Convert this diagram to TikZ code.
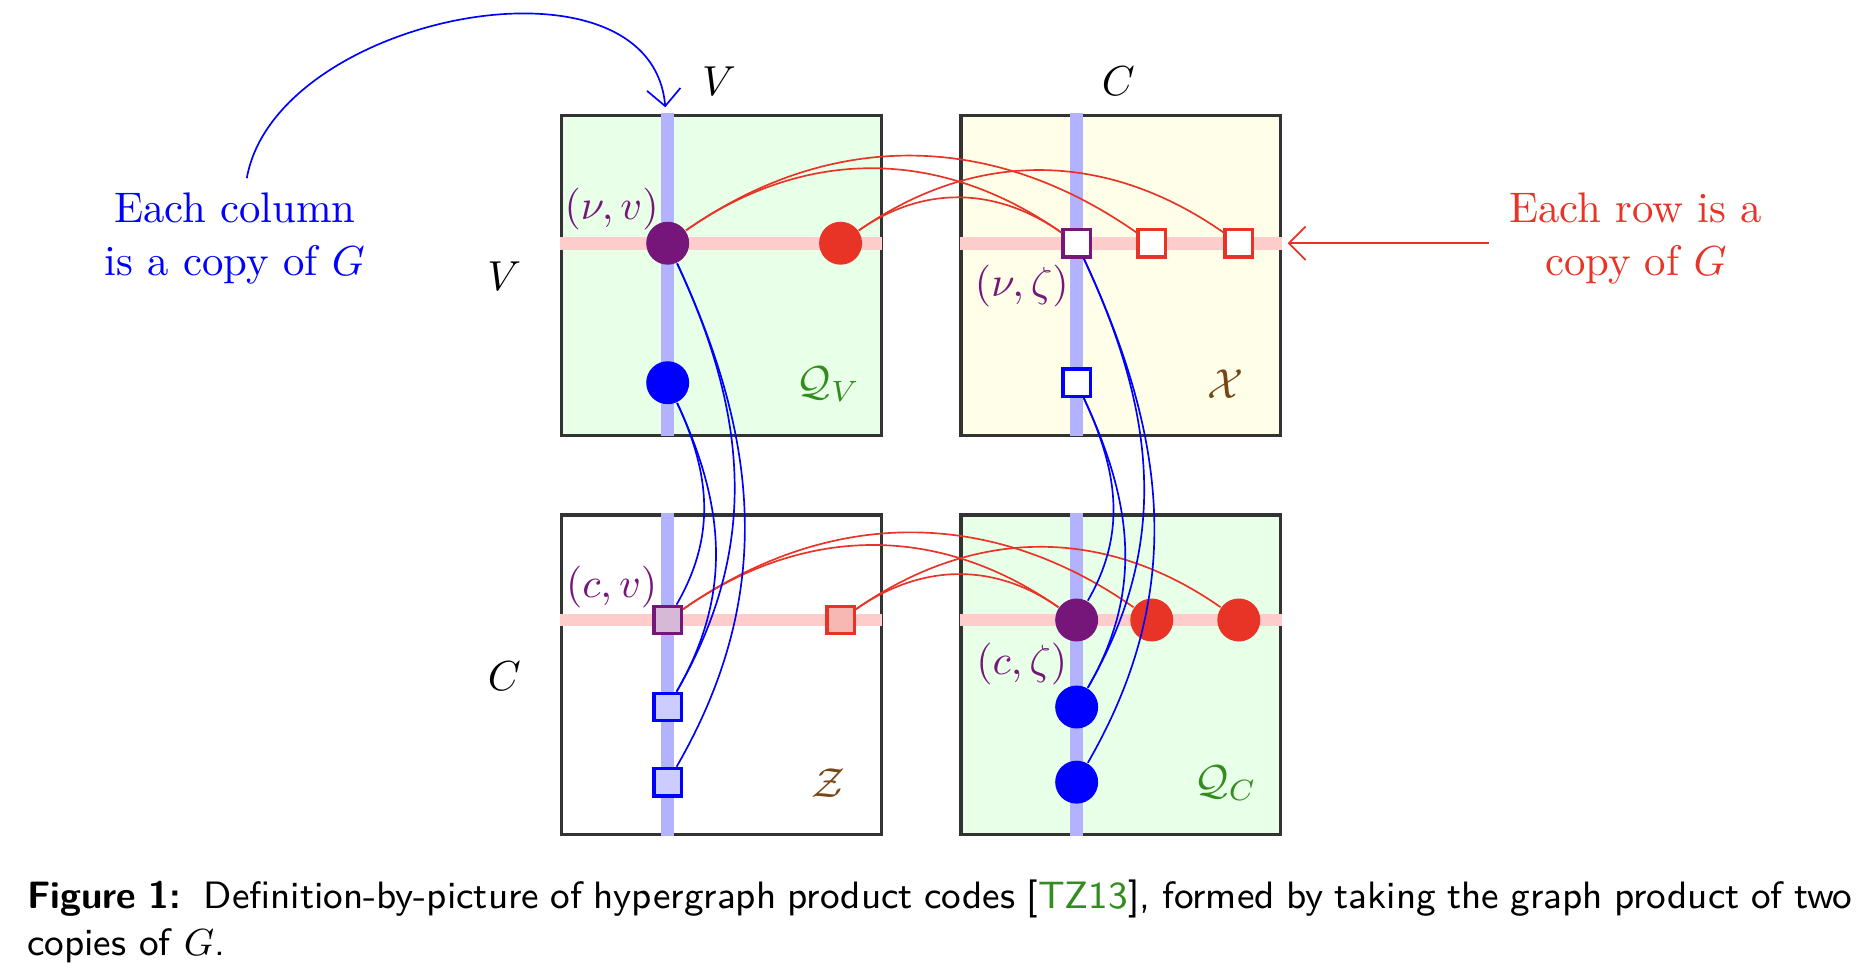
\documentclass[tikz,border=0pt]{standalone}
\usepackage{amsmath}
\usepackage{xcolor}
\usetikzlibrary{arrows.meta}
\definecolor{myPurple}{RGB}{118,22,122}
\definecolor{myRed}{RGB}{232,52,38}
\definecolor{myGreen}{RGB}{50,140,30}
\definecolor{myBrown}{RGB}{120,70,20}
\tikzset{%
  box/.style={draw=black!80, thick, minimum size=2.68cm, inner sep=0pt},
  bit/.style={circle, minimum size=0.36cm, inner sep=0pt},
  chk/.style={rectangle, draw, thick, fill=white, minimum size=0.23cm, inner sep=0pt},
  colline/.style={blue!30, line width=3pt},
  rowline/.style={red!20, line width=3pt},
  redarc/.style={myRed, thin},
  bluearc/.style={blue, thin},
}
\begin{document}
\begin{tikzpicture}[x=0.01cm,y=-0.01cm,font=\fontsize{10.2}{12.5}\selectfont]
\useasboundingbox (0,0) rectangle (1560,819);
% boxes
\node[box, fill=green!9]  (qv) at (605,231) {};
\node[box, fill=yellow!9] (qx) at (940,231) {};
\node[box, fill=white]    (qz) at (605,566) {};
\node[box, fill=green!9]  (qc) at (940,566) {};
% columns and rows
\draw[colline] (560,95) -- (560,366);
\draw[colline] (560,430) -- (560,701);
\draw[colline] (903,95) -- (903,366);
\draw[colline] (903,430) -- (903,701);
\draw[rowline] (470,204) -- (740,204);
\draw[rowline] (805,204) -- (1075,204);
\draw[rowline] (470,520) -- (740,520);
\draw[rowline] (805,520) -- (1075,520);
% top row
\node[bit, fill=myPurple] (nv) at (560,204) {};
\node[bit, fill=myRed] (nb) at (705,204) {};
\node[chk, draw=myPurple] (nz) at (903,204) {};
\node[chk, draw=myRed] (nz2) at (966,204) {};
\node[chk, draw=myRed] (nz3) at (1039,204) {};
\node[bit, fill=blue] (bv) at (560,321) {};
\node[chk, draw=blue] (bz) at (903,321) {};
% bottom row
\node[chk, draw=myPurple, fill=myPurple!30] (cv) at (560,520) {};
\node[chk, draw=myRed, fill=myRed!35] (cb) at (705,520) {};
\node[bit, fill=myPurple] (cz) at (903,520) {};
\node[bit, fill=myRed] (cz2) at (966,520) {};
\node[bit, fill=myRed] (cz3) at (1039,520) {};
\node[chk, draw=blue, fill=blue!20] (dv) at (560,593) {};
\node[chk, draw=blue, fill=blue!20] (ev) at (560,656) {};
\node[bit, fill=blue] (dz) at (903,593) {};
\node[bit, fill=blue] (ez) at (903,656) {};
% red arcs
\foreach \a/\b in {nv/nz,nv/nz2,nb/nz,nb/nz3,cv/cz,cv/cz2,cb/cz,cb/cz3}
  \draw[redarc] (\a) to[out=35,in=145] (\b);
% blue arcs
\foreach \a/\b in {bv/cv,bv/dv,nv/dv,nv/ev,bz/cz,bz/dz,nz/dz,nz/ez}
  \draw[bluearc] (\a) to[out=-65,in=60] (\b);
% labels
\node (lV) at (603,68) {$V$};
\node (lC) at (938,68) {$C$};
\node (rV) at (423,232) {$V$};
\node (rC) at (423,567) {$C$};
\node[myPurple] at (513,175) {$(\nu,v)$};
\node[myPurple] at (857,240) {$(\nu,\zeta)$};
\node[myPurple] at (513,492) {$(c,v)$};
\node[myPurple] at (857,557) {$(c,\zeta)$};
\node[myGreen] at (695,322) {$\mathcal{Q}_V$};
\node[myBrown] at (1028,322) {$\mathcal{X}$};
\node[myBrown] at (695,657) {$\mathcal{Z}$};
\node[myGreen] at (1028,657) {$\mathcal{Q}_C$};
% annotations
\node[blue, align=center] (col) at (197,200) {Each column\\is a copy of $G$};
\node[myRed, align=center] (row) at (1372,200) {Each row is a\\copy of $G$};
\coordinate (colend) at (558,90);
\coordinate (rowend) at (1080,204);
\draw[blue, -{Straight Barb[length=4pt]}] (col.north) ++(10,0) to[out=80,in=95] (colend);
\draw[myRed, -{Straight Barb[length=4pt]}] (row.west |- rowend) ++(-5,0) -- (rowend);
% caption
\node[anchor=north west, inner sep=0pt, text width=15.3cm, align=justify,
  font=\sffamily\fontsize{9.1}{11.4}\selectfont] (cap) at (22,737)
  {\textbf{Figure 1:}\ \ Definition-by-picture of hypergraph product codes [\textcolor{myGreen}{TZ13}], formed by taking the graph product of two copies of $G$.};
\end{tikzpicture}
\end{document}
